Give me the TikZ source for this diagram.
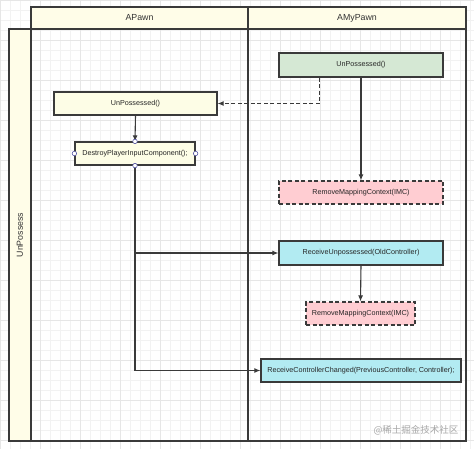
\documentclass[tikz,border=0pt]{standalone}
\usepackage{fontspec}
\setmainfont{Liberation Sans}
\newfontfamily\cjkfont{Noto Sans CJK SC}
\usetikzlibrary{arrows.meta,calc}
\definecolor{lineC}{HTML}{3A3A3A}
\definecolor{hdrY}{HTML}{FFFDE8}
\definecolor{boxY}{HTML}{FDFDE6}
\definecolor{boxG}{HTML}{D5E8D4}
\definecolor{boxP}{HTML}{FFCDD2}
\definecolor{boxC}{HTML}{B2EBF2}
\definecolor{gridC}{HTML}{F2F2F2}
\definecolor{gridD}{HTML}{E6E6E6}
\begin{document}
\begin{tikzpicture}[x=1pt,y=-1pt,
  every node/.style={font=\fontsize{7.2}{8}\selectfont, text=black!85},
  proc/.style={draw=lineC, line width=1.2pt, rectangle, inner sep=0pt, minimum height=23pt},
  yel/.style={proc, fill=boxY},
  grn/.style={proc, fill=boxG},
  pnk/.style={proc, fill=boxP, dashed, dash pattern=on 4pt off 2.5pt},
  cyn/.style={proc, fill=boxC},
  flow/.style={draw=lineC, line width=1.1pt, -{Latex[length=6pt,width=5pt]}},
  pool/.style={draw=lineC, line width=1.4pt},
  hdr/.style={font=\fontsize{8.8}{10}\selectfont, text=black!80},
  port/.style={circle, draw=gray!70!blue, fill=white, line width=0.6pt, inner sep=0pt, minimum size=4.5pt}
]
\useasboundingbox (0,0) rectangle (474,449);
\fill[white] (0,0) rectangle (474,449);
% background grid
\draw[gridC, line width=0.4pt] (0,0) grid[step=10pt] (474,449);
\draw[gridD, line width=0.5pt] (0,0) grid[step=40pt] (474,449);
% pool
\fill[hdrY] (31,7) rectangle (466,29);
\fill[hdrY] (9,29) rectangle (31,441);
\draw[pool] (31,7) rectangle (466,441);
\draw[pool] (9,29) rectangle (466,441);
\draw[pool] (31,29) -- (466,29);
\draw[pool] (248,7) -- (248,441);
\node[hdr] (hA) at (139.5,18) {APawn};
\node[hdr] (hB) at (357,18) {AMyPawn};
\node[hdr, rotate=90] (hL) at (20,235) {UnPossess};
% nodes
\node[grn, minimum width=164pt, minimum height=24pt] (g1) at (361,65) {UnPossessed()};
\node[yel, minimum width=163pt] (y1) at (135.5,103.5) {UnPossessed()};
\node[yel, minimum width=120pt] (d1) at (135,153.5) {DestroyPlayerInputComponent();};
\node[pnk, minimum width=164pt] (r1) at (361,192.5) {RemoveMappingContext(IMC)};
\node[cyn, minimum width=164pt, minimum height=24pt] (c1) at (361,253) {ReceiveUnpossessed(OldController)};
\node[pnk, minimum width=109pt] (r2) at (360.5,313.5) {RemoveMappingContext(IMC)};
\node[cyn, minimum width=200pt] (c2) at (361,370.5) {ReceiveControllerChanged(PreviousController, Controller);};
% connectors
\coordinate (dsrc) at ($(g1.south west)!0.25!(g1.south east)$);
\draw[flow, dashed, dash pattern=on 4pt off 2.5pt] (dsrc) |- (y1.east);
\draw[flow] (g1.south) -- (r1.north);
\draw[flow] (y1.south) -- (d1.north);
\draw[flow] (d1.south) |- (c1.west);
\draw[flow] (d1.south) |- (c2.west);
\draw[flow] (c1.south) -- (r2.north);
% ports on d1
\node[port] (p1) at (d1.north) {};
\node[port] (p2) at (d1.south) {};
\node[port] (p3) at (d1.west) {};
\node[port] (p4) at (d1.east) {};
% watermark
\node[font=\cjkfont\fontsize{9.5}{10}\selectfont, text=gray!70] (wm) at (416,430) {@稀土掘金技术社区};
\end{tikzpicture}
\end{document}
